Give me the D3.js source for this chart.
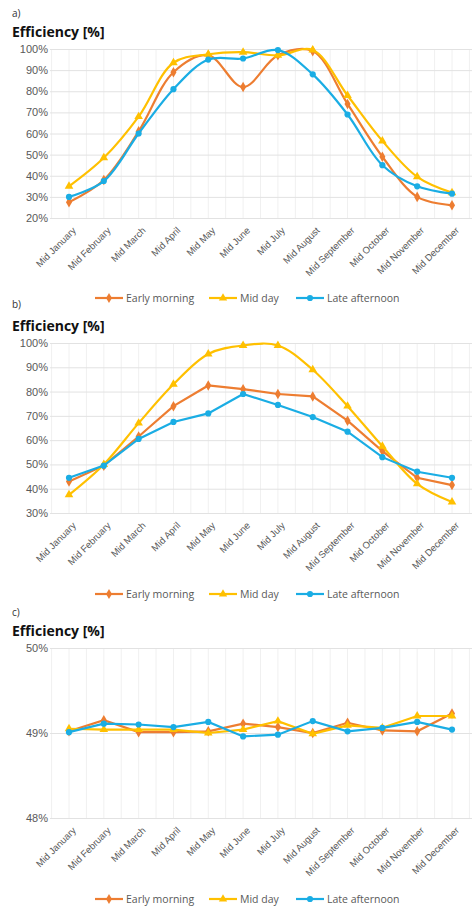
<!DOCTYPE html>
<html lang="en">
<head>
<meta charset="utf-8">
<title>Efficiency</title>
<script src="https://d3js.org/d3.v7.min.js"></script>
<style>
body { margin: 0; background: #fff; font-family: "Open Sans", "Noto Sans", sans-serif; }
</style>
</head>
<body>
<div id="chart"></div>
<script>
// categories and series
var months = ["Mid January","Mid February","Mid March","Mid April","Mid May","Mid June","Mid July","Mid August","Mid September","Mid October","Mid November","Mid December"];
var seriesNames = ["Early morning","Mid day","Late afternoon"];

var aEarly = [27.5,38,61,89,97,82,97,99,74,49,30,26];
var aMid   = [35,48.5,68,93.5,97.5,98.5,97,99.5,78,56.5,39.5,32];
var aLate  = [30,37.5,60,81,95,95.5,99.5,88,69,45,35,31.5];

var bEarly = [43,49.5,61.5,74,82.5,81,79,78,68,55.5,44.5,41.5];
var bMid   = [37.5,50,67,83,95.5,99,99,89,74,57.5,42,34.5];
var bLate  = [44.5,49.5,60.5,67.5,71,79,74.5,69.5,63.5,53,47,44.5];

var cEarly = [49.02,49.15,49.01,49.01,49.02,49.11,49.07,49.0,49.12,49.03,49.02,49.23];
var cMid   = [49.05,49.04,49.04,49.04,49.0,49.04,49.14,48.99,49.09,49.06,49.2,49.2];
var cLate  = [49.01,49.11,49.1,49.07,49.13,48.96,48.98,49.14,49.02,49.06,49.13,49.04];

var aTicks = [20,30,40,50,60,70,80,90,100];
var bTicks = [30,40,50,60,70,80,90,100];
var cTicks = [48,49,50];

var colors = ["#ED7D31","#FFC000","#1AADE4"];
var symbols = [d3.symbolDiamond, d3.symbolTriangle, d3.symbolCircle];

var W = 474, H = 908;
var svg = d3.select("#chart").append("svg").attr("width", W).attr("height", H);

var panels = [
  {label:"a)", top:0, yMin:20, yMax:100, ticks:aTicks, data:[aEarly,aMid,aLate], curves:[true,true,true], y0:49, y1:218, legendY:298},
  {label:"b)", top:291, yMin:30, yMax:100, ticks:bTicks, data:[bEarly,bMid,bLate], curves:[false,true,false], y0:343, y1:513, legendY:594},
  {label:"c)", top:599, yMin:48, yMax:50, ticks:cTicks, data:[cEarly,cMid,cLate], curves:[false,false,false], y0:648, y1:818, legendY:899}
];

var x = d3.scalePoint().domain(months).range([69, 452]).padding(0);
var step = x.step();

panels.forEach(function(p) {
  var g = svg.append("g");
  g.append("text").attr("x", 12).attr("y", p.top + 17).attr("font-size", 10).attr("fill", "#333").text(p.label);
  g.append("text").attr("x", 12).attr("y", p.y0 - 12).attr("font-size", 14).attr("font-weight", "bold").attr("fill", "#111").text("Efficiency [%]");

  var y = d3.scaleLinear().domain([p.yMin, p.yMax]).range([p.y1, p.y0]);

  // minor vertical grid
  var minor = d3.range(0, months.length * 2 + 1).map(function(i) { return x(months[0]) - step / 2 + i * step / 2; });
  g.selectAll("line.vg").data(minor).enter().append("line")
    .attr("x1", function(d) { return d; }).attr("x2", function(d) { return d; })
    .attr("y1", p.y0).attr("y2", p.y1)
    .attr("stroke", "#f0f0f0").attr("stroke-width", 1);

  var yAxis = d3.axisLeft(y).tickValues(p.ticks).tickSize(-(472 - 50)).tickFormat(function(d) { return d + "%"; });
  var ya = g.append("g").attr("transform", "translate(50,0)").call(yAxis);
  ya.select(".domain").remove();
  ya.selectAll("line").attr("stroke", "#e2e2e2");
  ya.selectAll("text").attr("fill", "#595959").attr("font-size", 11).attr("x", -2);

  var xAxis = d3.axisBottom(x).tickSize(0);
  var xa = g.append("g").attr("transform", "translate(0," + p.y1 + ")").call(xAxis);
  xa.select(".domain").remove();
  xa.selectAll("text").attr("fill", "#595959").attr("font-size", 9.5)
    .attr("text-anchor", "end").attr("dy", 0)
    .attr("transform", "translate(5,11) rotate(-45)");

  p.data.forEach(function(vals, s) {
    var line = d3.line().x(function(d, i) { return x(months[i]); }).y(function(d) { return y(d); })
      .curve(p.curves[s] ? d3.curveCatmullRom.alpha(0.5) : d3.curveLinear);
    g.append("path").datum(vals).attr("fill", "none").attr("stroke", colors[s]).attr("stroke-width", 2.2).attr("d", line);
    g.selectAll("path.m" + s).data(vals).enter().append("path")
      .attr("transform", function(d, i) { return "translate(" + x(months[i]) + "," + y(d) + ")"; })
      .attr("d", d3.symbol().type(symbols[s]).size(s === 2 ? 30 : 32))
      .attr("fill", colors[s]);
  });

  // legend
  var legX = [95, 209, 296];
  seriesNames.forEach(function(name, s) {
    var lg = g.append("g").attr("transform", "translate(" + legX[s] + "," + p.legendY + ")");
    lg.append("line").attr("x1", 0).attr("x2", 28).attr("stroke", colors[s]).attr("stroke-width", 2.2);
    lg.append("path").attr("transform", "translate(14,0)").attr("d", d3.symbol().type(symbols[s]).size(30)).attr("fill", colors[s]);
    lg.append("text").attr("x", 31).attr("y", 4).attr("font-size", 10.5).attr("fill", "#595959").text(name);
  });
});
</script>
</body>
</html>
